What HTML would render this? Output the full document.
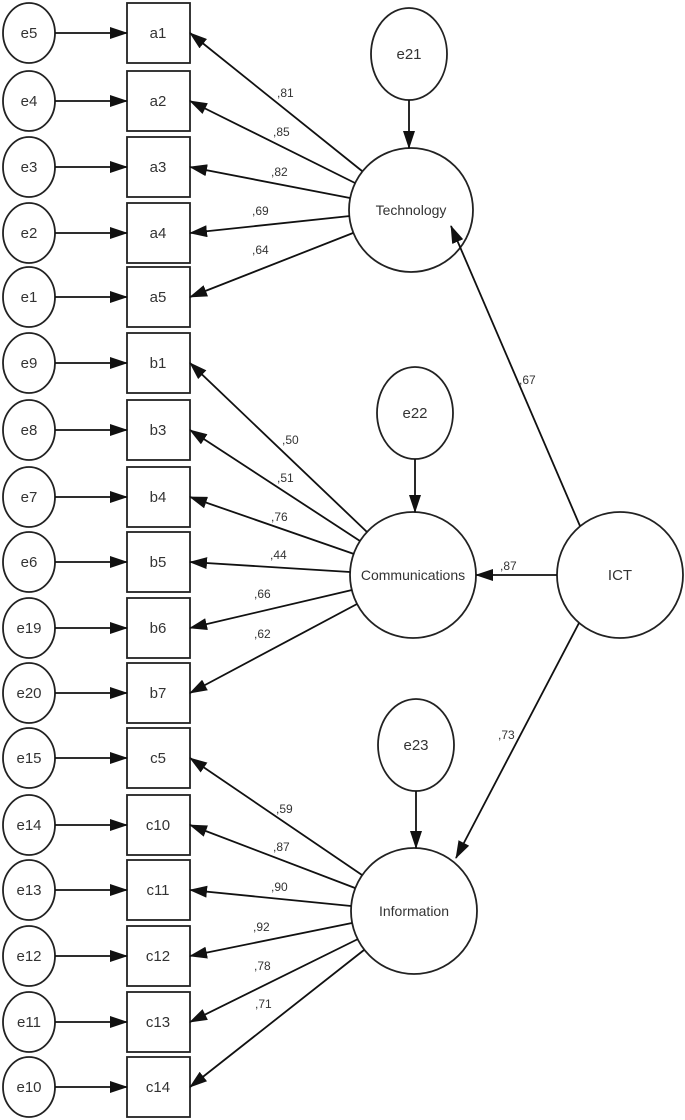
<!DOCTYPE html>
<html><head><meta charset="utf-8"><style>body{margin:0;background:#fff}svg{display:block}text{font-family:"Liberation Sans",sans-serif;fill:#333}</style></head>
<body>
<svg width="685" height="1120" viewBox="0 0 685 1120" xmlns="http://www.w3.org/2000/svg">
<defs><marker id="m" markerUnits="userSpaceOnUse" markerWidth="18" markerHeight="12" refX="17" refY="6" orient="auto"><path d="M0,0 L18,6 L0,12 z" fill="#111"/></marker></defs>
<g fill="#fff" stroke="#222" stroke-width="1.8">
<ellipse cx="29" cy="33" rx="26" ry="30"/><ellipse cx="29" cy="101" rx="26" ry="30"/><ellipse cx="29" cy="167" rx="26" ry="30"/><ellipse cx="29" cy="233" rx="26" ry="30"/><ellipse cx="29" cy="297" rx="26" ry="30"/><ellipse cx="29" cy="363" rx="26" ry="30"/><ellipse cx="29" cy="430" rx="26" ry="30"/><ellipse cx="29" cy="497" rx="26" ry="30"/><ellipse cx="29" cy="562" rx="26" ry="30"/><ellipse cx="29" cy="628" rx="26" ry="30"/><ellipse cx="29" cy="693" rx="26" ry="30"/><ellipse cx="29" cy="758" rx="26" ry="30"/><ellipse cx="29" cy="825" rx="26" ry="30"/><ellipse cx="29" cy="890" rx="26" ry="30"/><ellipse cx="29" cy="956" rx="26" ry="30"/><ellipse cx="29" cy="1022" rx="26" ry="30"/><ellipse cx="29" cy="1087" rx="26" ry="30"/>
<rect x="127" y="3" width="63" height="60"/><rect x="127" y="71" width="63" height="60"/><rect x="127" y="137" width="63" height="60"/><rect x="127" y="203" width="63" height="60"/><rect x="127" y="267" width="63" height="60"/><rect x="127" y="333" width="63" height="60"/><rect x="127" y="400" width="63" height="60"/><rect x="127" y="467" width="63" height="60"/><rect x="127" y="532" width="63" height="60"/><rect x="127" y="598" width="63" height="60"/><rect x="127" y="663" width="63" height="60"/><rect x="127" y="728" width="63" height="60"/><rect x="127" y="795" width="63" height="60"/><rect x="127" y="860" width="63" height="60"/><rect x="127" y="926" width="63" height="60"/><rect x="127" y="992" width="63" height="60"/><rect x="127" y="1057" width="63" height="60"/>
<circle cx="411" cy="210" r="62"/><circle cx="413" cy="575" r="63"/><circle cx="414" cy="911" r="63"/><circle cx="620" cy="575" r="63"/>
<ellipse cx="409" cy="54" rx="38" ry="46"/><ellipse cx="415" cy="413" rx="38" ry="46"/><ellipse cx="416" cy="745" rx="38" ry="46"/>
</g>
<g stroke="#111" stroke-width="1.8" marker-end="url(#m)">
<line x1="55" y1="33" x2="127" y2="33"/><line x1="55" y1="101" x2="127" y2="101"/><line x1="55" y1="167" x2="127" y2="167"/><line x1="55" y1="233" x2="127" y2="233"/><line x1="55" y1="297" x2="127" y2="297"/><line x1="55" y1="363" x2="127" y2="363"/><line x1="55" y1="430" x2="127" y2="430"/><line x1="55" y1="497" x2="127" y2="497"/><line x1="55" y1="562" x2="127" y2="562"/><line x1="55" y1="628" x2="127" y2="628"/><line x1="55" y1="693" x2="127" y2="693"/><line x1="55" y1="758" x2="127" y2="758"/><line x1="55" y1="825" x2="127" y2="825"/><line x1="55" y1="890" x2="127" y2="890"/><line x1="55" y1="956" x2="127" y2="956"/><line x1="55" y1="1022" x2="127" y2="1022"/><line x1="55" y1="1087" x2="127" y2="1087"/>
<line x1="362" y1="171" x2="190" y2="33"/><line x1="355" y1="183" x2="190" y2="101"/><line x1="350" y1="198" x2="190" y2="167"/><line x1="350" y1="216" x2="190" y2="233"/><line x1="353" y1="233" x2="190" y2="297"/>
<line x1="367" y1="532" x2="190" y2="363"/><line x1="360" y1="541" x2="190" y2="430"/><line x1="354" y1="554" x2="190" y2="497"/><line x1="350" y1="572" x2="190" y2="562"/><line x1="352" y1="590" x2="190" y2="628"/><line x1="357" y1="604" x2="190" y2="693"/>
<line x1="362" y1="875" x2="190" y2="758"/><line x1="355" y1="888" x2="190" y2="825"/><line x1="351" y1="906" x2="190" y2="890"/><line x1="352" y1="923" x2="190" y2="956"/><line x1="358" y1="939" x2="190" y2="1022"/><line x1="364" y1="950" x2="190" y2="1087"/>
<line x1="409" y1="100" x2="409" y2="148"/><line x1="415" y1="459" x2="415" y2="512"/><line x1="416" y1="791" x2="416" y2="848"/>
<line x1="580" y1="526" x2="451" y2="226"/><line x1="557" y1="575" x2="476" y2="575"/><line x1="579" y1="623" x2="456" y2="858"/>
</g>
<g font-size="15" text-anchor="middle">
<text x="29" y="38">e5</text><text x="29" y="106">e4</text><text x="29" y="172">e3</text><text x="29" y="238">e2</text><text x="29" y="302">e1</text><text x="29" y="368">e9</text><text x="29" y="435">e8</text><text x="29" y="502">e7</text><text x="29" y="567">e6</text><text x="29" y="633">e19</text><text x="29" y="698">e20</text><text x="29" y="763">e15</text><text x="29" y="830">e14</text><text x="29" y="895">e13</text><text x="29" y="961">e12</text><text x="29" y="1027">e11</text><text x="29" y="1092">e10</text>
<text x="158" y="38">a1</text><text x="158" y="106">a2</text><text x="158" y="172">a3</text><text x="158" y="238">a4</text><text x="158" y="302">a5</text><text x="158" y="368">b1</text><text x="158" y="435">b3</text><text x="158" y="502">b4</text><text x="158" y="567">b5</text><text x="158" y="633">b6</text><text x="158" y="698">b7</text><text x="158" y="763">c5</text><text x="158" y="830">c10</text><text x="158" y="895">c11</text><text x="158" y="961">c12</text><text x="158" y="1027">c13</text><text x="158" y="1092">c14</text>
<text x="409" y="59">e21</text><text x="415" y="418">e22</text><text x="416" y="750">e23</text><text x="620" y="580">ICT</text>
</g>
<g font-size="14" text-anchor="middle"><text x="411" y="215">Technology</text><text x="413" y="580">Communications</text><text x="414" y="916">Information</text></g>
<g font-size="12">
<text x="277" y="97">,81</text><text x="273" y="136">,85</text><text x="271" y="176">,82</text><text x="252" y="215">,69</text><text x="252" y="254">,64</text>
<text x="282" y="444">,50</text><text x="277" y="482">,51</text><text x="271" y="521">,76</text><text x="270" y="559">,44</text><text x="254" y="598">,66</text><text x="254" y="638">,62</text>
<text x="276" y="813">,59</text><text x="273" y="851">,87</text><text x="271" y="891">,90</text><text x="253" y="931">,92</text><text x="254" y="970">,78</text><text x="255" y="1008">,71</text>
<text x="519" y="384">,67</text><text x="500" y="570">,87</text><text x="498" y="739">,73</text>
</g>
</svg>
</body></html>
